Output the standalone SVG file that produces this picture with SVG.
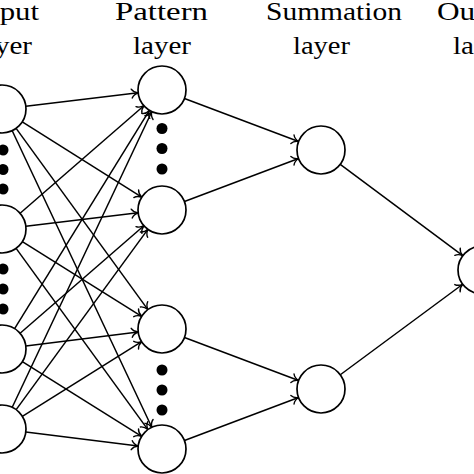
<svg xmlns="http://www.w3.org/2000/svg" width="474" height="474" viewBox="0 0 474 474">
<style>
  .node { fill: #fff; stroke: #000; stroke-width: 1.7; }
  .dot { fill: #000; }
  .edge { stroke: #000; stroke-width: 1.5; fill: none; }
  .edge.arr { marker-end: url(#tip); }
  .lbl { font-family: "Liberation Serif", "DejaVu Serif", serif; font-size: 26px; fill: #000; }
</style>
<defs>
  <marker id="tip" markerUnits="userSpaceOnUse" markerWidth="10" markerHeight="10" refX="0" refY="0" orient="auto" overflow="visible">
    <path d="M-6.5,-4.5 C-5,-1.7 -1.7,-0.4 0,0 C-1.7,0.4 -5,1.7 -6.5,4.5" fill="none" stroke="#000" stroke-width="1.4" stroke-linecap="round"/>
  </marker>
</defs>
<rect width="474" height="474" fill="#fff"/>

<g id="labels">
  <text class="lbl" x="-26" y="19.5" textLength="65" lengthAdjust="spacingAndGlyphs">Input</text>
  <text class="lbl" x="-26" y="53.5" textLength="58" lengthAdjust="spacingAndGlyphs">layer</text>
  <text class="lbl" x="115" y="19.5" textLength="93" lengthAdjust="spacingAndGlyphs">Pattern</text>
  <text class="lbl" x="133" y="53.5" textLength="58" lengthAdjust="spacingAndGlyphs">layer</text>
  <text class="lbl" x="266" y="19.5" textLength="136" lengthAdjust="spacingAndGlyphs">Summation</text>
  <text class="lbl" x="293" y="53.5" textLength="57" lengthAdjust="spacingAndGlyphs">layer</text>
  <text class="lbl" x="437" y="19.5" textLength="87" lengthAdjust="spacingAndGlyphs">Output</text>
  <text class="lbl" x="453" y="53.5" textLength="58" lengthAdjust="spacingAndGlyphs">layer</text>
</g>

<g id="connectors">
  <!-- input 1 -->
  <line class="edge arr" x1="25.83" y1="106.17" x2="138.17" y2="92.83"/>
  <line class="edge arr" x1="22.29" y1="121.81" x2="141.71" y2="197.19"/>
  <line class="edge arr" x1="16.12" y1="128.41" x2="147.88" y2="309.59"/>
  <line class="edge arr" x1="12.22" y1="130.71" x2="151.78" y2="427.29"/>
  <!-- input 2 -->
  <line class="edge arr" x1="20.12" y1="213.26" x2="143.88" y2="105.74"/>
  <line class="edge arr" x1="25.83" y1="226.17" x2="138.17" y2="212.83"/>
  <line class="edge arr" x1="22.35" y1="241.72" x2="141.65" y2="316.28"/>
  <line class="edge arr" x1="16.12" y1="248.41" x2="147.88" y2="429.59"/>
  <!-- input 3 -->
  <line class="edge arr" x1="14.61" y1="328.58" x2="149.39" y2="110.42"/>
  <line class="edge arr" x1="20.12" y1="333.26" x2="143.88" y2="225.74"/>
  <line class="edge arr" x1="25.81" y1="346.02" x2="138.19" y2="331.98"/>
  <line class="edge arr" x1="22.35" y1="361.72" x2="141.65" y2="436.28"/>
  <!-- input 4 -->
  <line class="edge arr" x1="12.24" y1="407.30" x2="151.76" y2="111.70"/>
  <line class="edge arr" x1="16.16" y1="409.62" x2="147.84" y2="229.38"/>
  <line class="edge arr" x1="22.35" y1="416.28" x2="141.65" y2="341.72"/>
  <line class="edge arr" x1="25.81" y1="431.98" x2="138.19" y2="446.02"/>
  <!-- pattern to summation -->
  <line class="edge arr" x1="184.46" y1="98.48" x2="298.54" y2="141.52"/>
  <line class="edge arr" x1="184.46" y1="201.52" x2="298.54" y2="158.48"/>
  <line class="edge arr" x1="184.46" y1="337.48" x2="298.54" y2="380.52"/>
  <line class="edge arr" x1="184.46" y1="440.52" x2="298.54" y2="397.48"/>
  <!-- summation to output -->
  <line class="edge arr" x1="340.24" y1="164.34" x2="462.76" y2="255.66"/>
  <line class="edge arr" x1="340.30" y1="374.73" x2="462.70" y2="284.27"/>
</g>

<g id="input-nodes">
  <g id="in1"><circle class="node" cx="2" cy="109" r="24"/></g>
  <g id="in2"><circle class="node" cx="2" cy="229" r="24"/></g>
  <g id="in3"><circle class="node" cx="2" cy="349" r="24"/></g>
  <g id="in4"><circle class="node" cx="2" cy="429" r="24"/></g>
  <g id="in-dots">
    <circle class="dot" cx="3" cy="150" r="5.5"/>
    <circle class="dot" cx="3" cy="169.5" r="5.5"/>
    <circle class="dot" cx="3" cy="189" r="5.5"/>
    <circle class="dot" cx="3" cy="269" r="5.5"/>
    <circle class="dot" cx="3" cy="289" r="5.5"/>
    <circle class="dot" cx="3" cy="309" r="5.5"/>
  </g>
</g>

<g id="pattern-nodes">
  <g id="p1"><circle class="node" cx="162" cy="90" r="24"/></g>
  <g id="p2"><circle class="node" cx="162" cy="210" r="24"/></g>
  <g id="p3"><circle class="node" cx="162" cy="329" r="24"/></g>
  <g id="p4"><circle class="node" cx="162" cy="449" r="24"/></g>
  <g id="p-dots">
    <circle class="dot" cx="162" cy="128.5" r="5.5"/>
    <circle class="dot" cx="162" cy="148.5" r="5.5"/>
    <circle class="dot" cx="162" cy="169" r="5.5"/>
    <circle class="dot" cx="162" cy="370" r="5.5"/>
    <circle class="dot" cx="162" cy="390" r="5.5"/>
    <circle class="dot" cx="162" cy="410" r="5.5"/>
  </g>
</g>

<g id="summation-nodes">
  <g id="s1"><circle class="node" cx="321" cy="150" r="24"/></g>
  <g id="s2"><circle class="node" cx="321" cy="389" r="24"/></g>
</g>

<g id="output-node">
  <circle class="node" cx="482" cy="270" r="24"/>
</g>
</svg>
